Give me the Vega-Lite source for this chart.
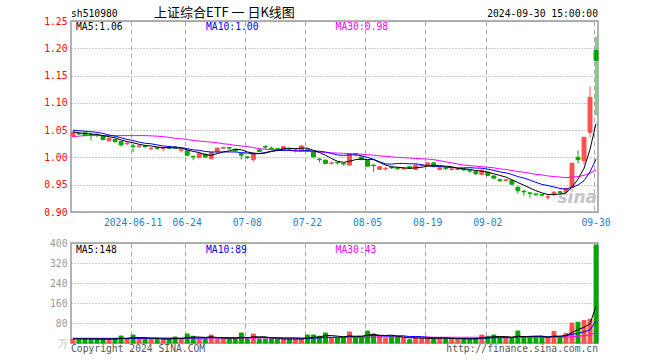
{
  "$schema": "https://vega.github.io/schema/vega-lite/v6.json",
  "background": "white",
  "padding": {"left": 42, "top": 6, "right": 0, "bottom": 0},
  "config": {
    "font": "DejaVu Sans Mono",
    "view": {"stroke": "#999999", "strokeWidth": 1.5},
    "axis": {"labelFont": "DejaVu Sans Mono", "labelFontSize": 9.7},
    "text": {"font": "DejaVu Sans Mono", "fontSize": 9.7}
  },
  "data": {"values": [
    {"d":"2024-05-27","o":1.039,"h":1.048,"l":1.036,"c":1.046,"v":16,"m5":1.047,"m10":1.050,"m30":1.038,"vm5":17,"vm10":17,"vm30":19},
    {"d":"2024-05-28","o":1.044,"h":1.046,"l":1.041,"c":1.043,"v":16,"m5":1.045,"m10":1.049,"m30":1.039,"vm5":17,"vm10":17,"vm30":19},
    {"d":"2024-05-29","o":1.045,"h":1.046,"l":1.039,"c":1.040,"v":16,"m5":1.044,"m10":1.048,"m30":1.040,"vm5":17,"vm10":17,"vm30":19},
    {"d":"2024-05-30","o":1.042,"h":1.045,"l":1.031,"c":1.041,"v":16,"m5":1.043,"m10":1.047,"m30":1.040,"vm5":17,"vm10":17,"vm30":19},
    {"d":"2024-05-31","o":1.042,"h":1.044,"l":1.037,"c":1.041,"v":16,"m5":1.042,"m10":1.046,"m30":1.040,"vm5":16,"vm10":17,"vm30":19},
    {"d":"2024-06-03","o":1.039,"h":1.040,"l":1.031,"c":1.033,"v":16,"m5":1.040,"m10":1.044,"m30":1.040,"vm5":16,"vm10":16.5,"vm30":19},
    {"d":"2024-06-04","o":1.031,"h":1.036,"l":1.028,"c":1.035,"v":16,"m5":1.038,"m10":1.041,"m30":1.040,"vm5":16,"vm10":16.5,"vm30":19},
    {"d":"2024-06-05","o":1.033,"h":1.034,"l":1.027,"c":1.029,"v":16,"m5":1.036,"m10":1.039,"m30":1.040,"vm5":16,"vm10":16.5,"vm30":19},
    {"d":"2024-06-06","o":1.029,"h":1.030,"l":1.020,"c":1.023,"v":28,"m5":1.032,"m10":1.036,"m30":1.040,"vm5":18.4,"vm10":17.7,"vm30":19},
    {"d":"2024-06-07","o":1.025,"h":1.028,"l":1.022,"c":1.026,"v":16,"m5":1.029,"m10":1.033,"m30":1.040,"vm5":18.4,"vm10":17.2,"vm30":19},
    {"d":"2024-06-11","o":1.021,"h":1.025,"l":1.010,"c":1.020,"v":32,"m5":1.027,"m10":1.031,"m30":1.040,"vm5":21.6,"vm10":18.8,"vm30":19.5},
    {"d":"2024-06-12","o":1.020,"h":1.023,"l":1.017,"c":1.021,"v":16,"m5":1.024,"m10":1.028,"m30":1.040,"vm5":21.6,"vm10":18.8,"vm30":19.5},
    {"d":"2024-06-13","o":1.021,"h":1.022,"l":1.017,"c":1.020,"v":16,"m5":1.022,"m10":1.026,"m30":1.040,"vm5":21.6,"vm10":18.8,"vm30":19.5},
    {"d":"2024-06-14","o":1.016,"h":1.019,"l":1.013,"c":1.017,"v":16,"m5":1.021,"m10":1.025,"m30":1.0395,"vm5":19.2,"vm10":18.8,"vm30":19.5},
    {"d":"2024-06-17","o":1.018,"h":1.019,"l":1.014,"c":1.017,"v":16,"m5":1.019,"m10":1.023,"m30":1.039,"vm5":19.2,"vm10":18.8,"vm30":19.5},
    {"d":"2024-06-18","o":1.016,"h":1.019,"l":1.011,"c":1.017,"v":16,"m5":1.018,"m10":1.021,"m30":1.038,"vm5":16,"vm10":18.8,"vm30":19.5},
    {"d":"2024-06-19","o":1.018,"h":1.020,"l":1.015,"c":1.017,"v":16,"m5":1.018,"m10":1.020,"m30":1.037,"vm5":16,"vm10":18.8,"vm30":19.5},
    {"d":"2024-06-20","o":1.019,"h":1.021,"l":1.016,"c":1.018,"v":24,"m5":1.017,"m10":1.019,"m30":1.035,"vm5":17.6,"vm10":19.6,"vm30":19.5},
    {"d":"2024-06-21","o":1.013,"h":1.016,"l":1.009,"c":1.014,"v":16,"m5":1.017,"m10":1.018,"m30":1.034,"vm5":17.6,"vm10":18.4,"vm30":19.5},
    {"d":"2024-06-24","o":1.012,"h":1.013,"l":1.003,"c":1.004,"v":36,"m5":1.014,"m10":1.016,"m30":1.033,"vm5":21.6,"vm10":20.4,"vm30":19.5},
    {"d":"2024-06-25","o":1.002,"h":1.003,"l":0.995,"c":1.001,"v":27,"m5":1.011,"m10":1.014,"m30":1.031,"vm5":23.8,"vm10":19.9,"vm30":20},
    {"d":"2024-06-26","o":1.000,"h":1.008,"l":0.998,"c":1.007,"v":16,"m5":1.009,"m10":1.013,"m30":1.030,"vm5":23.8,"vm10":19.9,"vm30":20},
    {"d":"2024-06-27","o":1.006,"h":1.007,"l":0.999,"c":1.001,"v":16,"m5":1.005,"m10":1.011,"m30":1.029,"vm5":22.2,"vm10":19.9,"vm30":20},
    {"d":"2024-06-28","o":0.998,"h":1.010,"l":0.996,"c":1.009,"v":32,"m5":1.004,"m10":1.010,"m30":1.028,"vm5":25.4,"vm10":21.5,"vm30":20},
    {"d":"2024-07-01","o":1.010,"h":1.018,"l":1.009,"c":1.017,"v":16,"m5":1.007,"m10":1.010,"m30":1.027,"vm5":21.4,"vm10":21.5,"vm30":20},
    {"d":"2024-07-02","o":1.017,"h":1.020,"l":1.015,"c":1.018,"v":16,"m5":1.010,"m10":1.010,"m30":1.025,"vm5":19.2,"vm10":21.5,"vm30":20},
    {"d":"2024-07-03","o":1.018,"h":1.019,"l":1.014,"c":1.017,"v":16,"m5":1.012,"m10":1.010,"m30":1.024,"vm5":19.2,"vm10":21.5,"vm30":20},
    {"d":"2024-07-04","o":1.015,"h":1.016,"l":1.011,"c":1.012,"v":16,"m5":1.015,"m10":1.010,"m30":1.022,"vm5":19.2,"vm10":20.7,"vm30":20},
    {"d":"2024-07-05","o":1.007,"h":1.008,"l":0.996,"c":1.004,"v":40,"m5":1.014,"m10":1.009,"m30":1.021,"vm5":20.8,"vm10":23.1,"vm30":20},
    {"d":"2024-07-08","o":1.001,"h":1.002,"l":0.997,"c":1.000,"v":16,"m5":1.010,"m10":1.008,"m30":1.020,"vm5":20.8,"vm10":21.1,"vm30":20},
    {"d":"2024-07-09","o":0.996,"h":1.008,"l":0.992,"c":1.007,"v":36,"m5":1.008,"m10":1.0065,"m30":1.018,"vm5":24.8,"vm10":22,"vm30":20.5},
    {"d":"2024-07-10","o":1.014,"h":1.016,"l":1.009,"c":1.011,"v":16,"m5":1.007,"m10":1.007,"m30":1.016,"vm5":24.8,"vm10":22,"vm30":20.5},
    {"d":"2024-07-11","o":1.020,"h":1.022,"l":1.015,"c":1.019,"v":16,"m5":1.008,"m10":1.009,"m30":1.015,"vm5":24.8,"vm10":22,"vm30":20.5},
    {"d":"2024-07-12","o":1.017,"h":1.020,"l":1.014,"c":1.016,"v":16,"m5":1.011,"m10":1.0115,"m30":1.0145,"vm5":20,"vm10":20.4,"vm30":20.5},
    {"d":"2024-07-15","o":1.016,"h":1.017,"l":1.012,"c":1.014,"v":16,"m5":1.013,"m10":1.0125,"m30":1.014,"vm5":20,"vm10":20.4,"vm30":20.5},
    {"d":"2024-07-16","o":1.013,"h":1.021,"l":1.012,"c":1.020,"v":16,"m5":1.016,"m10":1.013,"m30":1.0135,"vm5":16,"vm10":20.4,"vm30":20.5},
    {"d":"2024-07-17","o":1.016,"h":1.017,"l":1.013,"c":1.015,"v":16,"m5":1.017,"m10":1.013,"m30":1.013,"vm5":16,"vm10":20.4,"vm30":20.5},
    {"d":"2024-07-18","o":1.013,"h":1.017,"l":1.009,"c":1.014,"v":16,"m5":1.016,"m10":1.012,"m30":1.012,"vm5":16,"vm10":20.4,"vm30":20.5},
    {"d":"2024-07-19","o":1.012,"h":1.022,"l":1.011,"c":1.021,"v":16,"m5":1.017,"m10":1.012,"m30":1.0115,"vm5":16,"vm10":18,"vm30":20.5},
    {"d":"2024-07-22","o":1.014,"h":1.016,"l":1.010,"c":1.013,"v":32,"m5":1.017,"m10":1.0125,"m30":1.011,"vm5":19.2,"vm10":19.6,"vm30":20.5},
    {"d":"2024-07-23","o":1.010,"h":1.011,"l":1.000,"c":1.001,"v":32,"m5":1.013,"m10":1.0117,"m30":1.0105,"vm5":22.4,"vm10":19.2,"vm30":22},
    {"d":"2024-07-24","o":0.997,"h":0.999,"l":0.991,"c":0.996,"v":27,"m5":1.009,"m10":1.0112,"m30":1.010,"vm5":24.6,"vm10":20.3,"vm30":22},
    {"d":"2024-07-25","o":0.995,"h":0.996,"l":0.988,"c":0.989,"v":40,"m5":1.004,"m10":1.010,"m30":1.009,"vm5":29.4,"vm10":22.7,"vm30":22},
    {"d":"2024-07-26","o":0.989,"h":0.992,"l":0.987,"c":0.990,"v":18,"m5":0.998,"m10":1.0073,"m30":1.0085,"vm5":29.8,"vm10":22.9,"vm30":22},
    {"d":"2024-07-29","o":0.991,"h":0.992,"l":0.987,"c":0.990,"v":20,"m5":0.993,"m10":1.0045,"m30":1.008,"vm5":27.4,"vm10":23.3,"vm30":22},
    {"d":"2024-07-30","o":0.989,"h":0.990,"l":0.985,"c":0.988,"v":20,"m5":0.991,"m10":1.0037,"m30":1.0075,"vm5":25,"vm10":23.7,"vm30":22},
    {"d":"2024-07-31","o":0.986,"h":1.008,"l":0.985,"c":1.007,"v":44,"m5":0.993,"m10":1.0047,"m30":1.007,"vm5":28.4,"vm10":26.5,"vm30":22},
    {"d":"2024-08-01","o":1.007,"h":1.008,"l":1.003,"c":1.006,"v":24,"m5":0.996,"m10":1.0045,"m30":1.0065,"vm5":25.2,"vm10":27.3,"vm30":22},
    {"d":"2024-08-02","o":1.001,"h":1.002,"l":0.995,"c":0.996,"v":20,"m5":0.997,"m10":1.0032,"m30":1.006,"vm5":25.6,"vm10":27.7,"vm30":22},
    {"d":"2024-08-05","o":0.994,"h":0.995,"l":0.983,"c":0.984,"v":48,"m5":0.996,"m10":1.000,"m30":1.005,"vm5":31.2,"vm10":29.3,"vm30":22},
    {"d":"2024-08-06","o":0.986,"h":0.987,"l":0.974,"c":0.985,"v":36,"m5":0.996,"m10":0.9967,"m30":1.004,"vm5":34.4,"vm10":29.7,"vm30":24},
    {"d":"2024-08-07","o":0.978,"h":0.984,"l":0.977,"c":0.983,"v":27,"m5":0.991,"m10":0.992,"m30":1.003,"vm5":31,"vm10":29.7,"vm30":24},
    {"d":"2024-08-08","o":0.979,"h":0.983,"l":0.976,"c":0.980,"v":19,"m5":0.986,"m10":0.9881,"m30":1.002,"vm5":30,"vm10":27.6,"vm30":24},
    {"d":"2024-08-09","o":0.982,"h":0.983,"l":0.979,"c":0.981,"v":27,"m5":0.983,"m10":0.9877,"m30":1.001,"vm5":31.4,"vm10":28.5,"vm30":24},
    {"d":"2024-08-12","o":0.981,"h":0.982,"l":0.977,"c":0.980,"v":24,"m5":0.982,"m10":0.989,"m30":1.000,"vm5":26.6,"vm10":28.9,"vm30":24},
    {"d":"2024-08-13","o":0.979,"h":0.982,"l":0.977,"c":0.980,"v":19,"m5":0.981,"m10":0.9891,"m30":0.9995,"vm5":23.2,"vm10":28.8,"vm30":24},
    {"d":"2024-08-14","o":0.983,"h":0.984,"l":0.979,"c":0.980,"v":13,"m5":0.980,"m10":0.9882,"m30":0.999,"vm5":20.4,"vm10":25.7,"vm30":24},
    {"d":"2024-08-15","o":0.978,"h":0.987,"l":0.977,"c":0.986,"v":23,"m5":0.981,"m10":0.9885,"m30":0.998,"vm5":21.2,"vm10":25.6,"vm30":24},
    {"d":"2024-08-16","o":0.985,"h":0.988,"l":0.983,"c":0.986,"v":19,"m5":0.982,"m10":0.9866,"m30":0.9975,"vm5":19.6,"vm10":25.5,"vm30":24},
    {"d":"2024-08-19","o":0.986,"h":0.991,"l":0.985,"c":0.990,"v":19,"m5":0.984,"m10":0.985,"m30":0.997,"vm5":18.6,"vm10":22.6,"vm30":24},
    {"d":"2024-08-20","o":0.990,"h":0.991,"l":0.982,"c":0.983,"v":19,"m5":0.985,"m10":0.9838,"m30":0.996,"vm5":18.6,"vm10":20.9,"vm30":23},
    {"d":"2024-08-21","o":0.978,"h":0.983,"l":0.976,"c":0.981,"v":19,"m5":0.985,"m10":0.9835,"m30":0.994,"vm5":19.8,"vm10":20.1,"vm30":23},
    {"d":"2024-08-22","o":0.981,"h":0.982,"l":0.977,"c":0.980,"v":19,"m5":0.984,"m10":0.9824,"m30":0.992,"vm5":19,"vm10":20.1,"vm30":23},
    {"d":"2024-08-23","o":0.978,"h":0.981,"l":0.976,"c":0.979,"v":16,"m5":0.983,"m10":0.9814,"m30":0.990,"vm5":18.4,"vm10":19,"vm30":23},
    {"d":"2024-08-26","o":0.978,"h":0.980,"l":0.976,"c":0.979,"v":16,"m5":0.980,"m10":0.9809,"m30":0.988,"vm5":17.8,"vm10":18.2,"vm30":23},
    {"d":"2024-08-27","o":0.979,"h":0.980,"l":0.976,"c":0.977,"v":16,"m5":0.979,"m10":0.9808,"m30":0.986,"vm5":17.2,"vm10":17.9,"vm30":23},
    {"d":"2024-08-28","o":0.976,"h":0.977,"l":0.972,"c":0.975,"v":16,"m5":0.978,"m10":0.9812,"m30":0.985,"vm5":16.6,"vm10":18.2,"vm30":23},
    {"d":"2024-08-29","o":0.974,"h":0.975,"l":0.968,"c":0.970,"v":19,"m5":0.976,"m10":0.9805,"m30":0.984,"vm5":16.6,"vm10":17.8,"vm30":23},
    {"d":"2024-08-30","o":0.969,"h":0.980,"l":0.968,"c":0.976,"v":32,"m5":0.975,"m10":0.9803,"m30":0.983,"vm5":19.8,"vm10":19.1,"vm30":23},
    {"d":"2024-09-02","o":0.973,"h":0.974,"l":0.966,"c":0.967,"v":27,"m5":0.973,"m10":0.9785,"m30":0.982,"vm5":22,"vm10":19.9,"vm30":23},
    {"d":"2024-09-03","o":0.966,"h":0.967,"l":0.961,"c":0.962,"v":32,"m5":0.970,"m10":0.9763,"m30":0.981,"vm5":25.2,"vm10":21.2,"vm30":22.5},
    {"d":"2024-09-04","o":0.959,"h":0.961,"l":0.955,"c":0.958,"v":19,"m5":0.967,"m10":0.9735,"m30":0.979,"vm5":25.8,"vm10":21.2,"vm30":22.5},
    {"d":"2024-09-05","o":0.958,"h":0.960,"l":0.956,"c":0.959,"v":19,"m5":0.964,"m10":0.9718,"m30":0.978,"vm5":25.8,"vm10":21.2,"vm30":22.5},
    {"d":"2024-09-06","o":0.958,"h":0.959,"l":0.949,"c":0.951,"v":19,"m5":0.959,"m10":0.9687,"m30":0.976,"vm5":23.2,"vm10":21.5,"vm30":22.5},
    {"d":"2024-09-09","o":0.945,"h":0.948,"l":0.934,"c":0.939,"v":48,"m5":0.954,"m10":0.9649,"m30":0.974,"vm5":27.4,"vm10":24.7,"vm30":22.5},
    {"d":"2024-09-10","o":0.938,"h":0.941,"l":0.930,"c":0.937,"v":23,"m5":0.949,"m10":0.9621,"m30":0.973,"vm5":25.6,"vm10":25.4,"vm30":22.5},
    {"d":"2024-09-11","o":0.935,"h":0.937,"l":0.926,"c":0.934,"v":23,"m5":0.944,"m10":0.9585,"m30":0.971,"vm5":26.4,"vm10":26.1,"vm30":22.5},
    {"d":"2024-09-12","o":0.933,"h":0.934,"l":0.929,"c":0.932,"v":23,"m5":0.939,"m10":0.9543,"m30":0.969,"vm5":27.2,"vm10":26.5,"vm30":22.5},
    {"d":"2024-09-13","o":0.932,"h":0.933,"l":0.928,"c":0.931,"v":22,"m5":0.935,"m10":0.9506,"m30":0.968,"vm5":27.8,"vm10":25.5,"vm30":22.5},
    {"d":"2024-09-18","o":0.927,"h":0.931,"l":0.922,"c":0.928,"v":22,"m5":0.932,"m10":0.9484,"m30":0.966,"vm5":22.6,"vm10":25,"vm30":22.5},
    {"d":"2024-09-19","o":0.934,"h":0.939,"l":0.928,"c":0.936,"v":46,"m5":0.932,"m10":0.9458,"m30":0.965,"vm5":27.2,"vm10":26.4,"vm30":22.8},
    {"d":"2024-09-20","o":0.937,"h":0.938,"l":0.933,"c":0.936,"v":22,"m5":0.933,"m10":0.9432,"m30":0.964,"vm5":27,"vm10":26.7,"vm30":22.7},
    {"d":"2024-09-23","o":0.937,"h":0.945,"l":0.933,"c":0.943,"v":38,"m5":0.935,"m10":0.9418,"m30":0.963,"vm5":30,"vm10":28.6,"vm30":23.3},
    {"d":"2024-09-24","o":0.945,"h":0.991,"l":0.943,"c":0.989,"v":80,"m5":0.946,"m10":0.9452,"m30":0.964,"vm5":41.6,"vm10":34.7,"vm30":25},
    {"d":"2024-09-25","o":1.000,"h":1.013,"l":0.989,"c":0.996,"v":83,"m5":0.960,"m10":0.9493,"m30":0.965,"vm5":53.8,"vm10":38.2,"vm30":27},
    {"d":"2024-09-26","o":0.994,"h":1.037,"l":0.987,"c":1.037,"v":90,"m5":0.980,"m10":0.9574,"m30":0.967,"vm5":62.6,"vm10":44.9,"vm30":29.4},
    {"d":"2024-09-27","o":1.046,"h":1.130,"l":1.037,"c":1.110,"v":95,"m5":1.015,"m10":0.9737,"m30":0.971,"vm5":77.2,"vm10":52.1,"vm30":32.1},
    {"d":"2024-09-30","o":1.196,"h":1.221,"l":1.077,"c":1.178,"v":392,"m5":1.062,"m10":0.997,"m30":0.977,"vm5":148,"vm10":89,"vm30":43}
  ]},
  "spacing": 9,
  "resolve": {"scale": {"x": "independent", "y": "independent"}},
  "vconcat": [
    {
      "width": 527,
      "height": 191,
      "layer": [
        {
          "mark": {"type": "rule", "strokeWidth": 1},
          "encoding": {
            "x": {"field": "d", "type": "ordinal", "title": null,
              "scale": {"paddingInner": 0.35, "paddingOuter": 0},
              "axis": {"values": ["2024-06-11","2024-06-24","2024-07-08","2024-07-22","2024-08-05","2024-08-19","2024-09-02","2024-09-30"],
                "labelExpr": "datum.value == '2024-06-11' ? datum.value : substring(datum.value, 5)",
                "labelColor": "#1a7fcf", "labelAngle": 0, "labelPadding": 5.5, "labelOverlap": false,
                "ticks": false, "domain": false, "grid": true, "gridColor": "#aaaaaa", "gridDash": [5, 3], "gridWidth": 1, "bandPosition": 0.05}},
            "y": {"field": "l", "type": "quantitative", "title": null,
              "scale": {"domain": [0.9, 1.25], "nice": false, "zero": false},
              "axis": {"values": [0.9, 0.95, 1.0, 1.05, 1.1, 1.15, 1.2, 1.25], "tickCount": 20, "format": ".2f", "labelColor": "#ff0000",
                "labelPadding": 4, "labelFlush": false, "labelOverlap": false, "ticks": false, "domain": false, "grid": true,
                "gridColor": "#999999", "gridDash": [1, 2], "gridWidth": 1, "minExtent": 28, "maxExtent": 28}},
            "y2": {"field": "h"},
            "color": {"condition": {"test": "datum.c >= datum.o", "value": "#ff5050"}, "value": "#00a800"}
          }
        },
        {
          "data": {"values": [{}]},
          "mark": {"type": "text", "align": "right", "baseline": "alphabetic", "color": "#c4c4c4", "font": "DejaVu Sans", "fontSize": 17, "fontWeight": "bold", "fontStyle": "italic", "dx": -1},
          "encoding": {"x": {"datum": "2024-09-30", "type": "ordinal", "bandPosition": 1}, "y": {"datum": 0.9165, "type": "quantitative"}, "text": {"value": "sina"}}
        },
        {
          "mark": {"type": "bar", "strokeWidth": 1},
          "encoding": {
            "x": {"field": "d", "type": "ordinal"},
            "y": {"field": "o", "type": "quantitative", "scale": {"domain": [0.9, 1.25], "nice": false, "zero": false}},
            "y2": {"field": "c"},
            "fill": {"condition": {"test": "datum.c >= datum.o", "value": "#ff5050"}, "value": "#00a800"},
            "stroke": {"condition": {"test": "datum.c >= datum.o", "value": "#ff5050"}, "value": "#00a800"}
          }
        },
        {
          "mark": {"type": "line", "color": "#ff00ff", "strokeWidth": 1},
          "encoding": {"x": {"field": "d", "type": "ordinal"}, "y": {"field": "m30", "type": "quantitative"}}
        },
        {
          "mark": {"type": "line", "color": "#0000ff", "strokeWidth": 1},
          "encoding": {"x": {"field": "d", "type": "ordinal"}, "y": {"field": "m10", "type": "quantitative"}}
        },
        {
          "mark": {"type": "line", "color": "#000000", "strokeWidth": 1},
          "encoding": {"x": {"field": "d", "type": "ordinal"}, "y": {"field": "m5", "type": "quantitative"}}
        },
        {
          "data": {"values": [{}]},
          "mark": {"type": "text", "align": "left", "baseline": "alphabetic", "color": "#000000"},
          "encoding": {"x": {"datum": "2024-05-27", "type": "ordinal", "bandPosition": 0}, "y": {"datum": 1.2565, "type": "quantitative"}, "text": {"value": "sh510980"}}
        },
        {
          "data": {"values": [{}]},
          "mark": {"type": "text", "align": "center", "baseline": "alphabetic", "color": "#000000", "font": "Noto Sans CJK SC", "fontSize": 13},
          "encoding": {"x": {"datum": "2024-07-02", "type": "ordinal", "bandPosition": 0.8}, "y": {"datum": 1.2565, "type": "quantitative"}, "text": {"value": "上证综合ETF 一  日K线图"}}
        },
        {
          "data": {"values": [{}]},
          "mark": {"type": "text", "align": "right", "baseline": "alphabetic", "color": "#000000"},
          "encoding": {"x": {"datum": "2024-09-30", "type": "ordinal", "bandPosition": 1}, "y": {"datum": 1.2565, "type": "quantitative"}, "text": {"value": "2024-09-30 15:00:00"}}
        },
        {
          "data": {"values": [{}]},
          "mark": {"type": "text", "align": "left", "baseline": "alphabetic", "color": "#000000", "dx": 5},
          "encoding": {"x": {"datum": "2024-05-27", "type": "ordinal", "bandPosition": 0}, "y": {"datum": 1.2328, "type": "quantitative"}, "text": {"value": "MA5:1.06"}}
        },
        {
          "data": {"values": [{}]},
          "mark": {"type": "text", "align": "left", "baseline": "alphabetic", "color": "#0000ee"},
          "encoding": {"x": {"datum": "2024-06-27", "type": "ordinal", "bandPosition": 0.7}, "y": {"datum": 1.2328, "type": "quantitative"}, "text": {"value": "MA10:1.00"}}
        },
        {
          "data": {"values": [{}]},
          "mark": {"type": "text", "align": "left", "baseline": "alphabetic", "color": "#ff00ff"},
          "encoding": {"x": {"datum": "2024-07-29", "type": "ordinal", "bandPosition": 0}, "y": {"datum": 1.2328, "type": "quantitative"}, "text": {"value": "MA30:0.98"}}
        }
      ]
    },
    {
      "width": 527,
      "height": 100,
      "layer": [
        {
          "mark": {"type": "bar", "strokeWidth": 1},
          "encoding": {
            "x": {"field": "d", "type": "ordinal", "title": null,
              "scale": {"paddingInner": 0.35, "paddingOuter": 0},
              "axis": {"values": ["2024-06-11","2024-06-24","2024-07-08","2024-07-22","2024-08-05","2024-08-19","2024-09-02","2024-09-30"],
                "labels": false, "ticks": false, "domain": false, "grid": true, "gridColor": "#aaaaaa", "gridDash": [5, 3], "gridWidth": 1, "bandPosition": 0.05}},
            "y": {"field": "v", "type": "quantitative", "title": null,
              "scale": {"domain": [0, 400], "nice": false},
              "axis": {"values": [0, 80, 160, 240, 320, 400], "tickCount": 20, "labelExpr": "datum.value == 0 ? '万' : datum.label",
                "labelColor": {"condition": {"test": "datum.value == 0", "value": "#bbbbbb"}, "value": "#999999"},
                "labelPadding": 4, "labelFlush": false, "labelOverlap": false, "ticks": false, "domain": false, "grid": true,
                "gridColor": "#999999", "gridDash": [1, 2], "gridWidth": 1, "minExtent": 28, "maxExtent": 28}},
            "fill": {"condition": {"test": "datum.c >= datum.o", "value": "#ff5050"}, "value": "#00a800"},
            "stroke": {"condition": {"test": "datum.c >= datum.o", "value": "#ff5050"}, "value": "#00a800"}
          }
        },
        {
          "mark": {"type": "line", "color": "#ff00ff", "strokeWidth": 1},
          "encoding": {"x": {"field": "d", "type": "ordinal"}, "y": {"field": "vm30", "type": "quantitative"}}
        },
        {
          "mark": {"type": "line", "color": "#0000ff", "strokeWidth": 1},
          "encoding": {"x": {"field": "d", "type": "ordinal"}, "y": {"field": "vm10", "type": "quantitative"}}
        },
        {
          "mark": {"type": "line", "color": "#000000", "strokeWidth": 1},
          "encoding": {"x": {"field": "d", "type": "ordinal"}, "y": {"field": "vm5", "type": "quantitative"}}
        },
        {
          "data": {"values": [{}]},
          "mark": {"type": "text", "align": "left", "baseline": "alphabetic", "color": "#000000", "dx": 5},
          "encoding": {"x": {"datum": "2024-05-27", "type": "ordinal", "bandPosition": 0}, "y": {"datum": 360, "type": "quantitative"}, "text": {"value": "MA5:148"}}
        },
        {
          "data": {"values": [{}]},
          "mark": {"type": "text", "align": "left", "baseline": "alphabetic", "color": "#0000ee"},
          "encoding": {"x": {"datum": "2024-06-27", "type": "ordinal", "bandPosition": 0.7}, "y": {"datum": 360, "type": "quantitative"}, "text": {"value": "MA10:89"}}
        },
        {
          "data": {"values": [{}]},
          "mark": {"type": "text", "align": "left", "baseline": "alphabetic", "color": "#ff00ff"},
          "encoding": {"x": {"datum": "2024-07-29", "type": "ordinal", "bandPosition": 0}, "y": {"datum": 360, "type": "quantitative"}, "text": {"value": "MA30:43"}}
        },
        {
          "data": {"values": [{}]},
          "mark": {"type": "text", "align": "left", "baseline": "alphabetic", "color": "#555555"},
          "encoding": {"x": {"datum": "2024-05-27", "type": "ordinal", "bandPosition": 0}, "y": {"datum": -37, "type": "quantitative"}, "text": {"value": "Copyright 2024 SINA.COM"}}
        },
        {
          "data": {"values": [{}]},
          "mark": {"type": "text", "align": "right", "baseline": "alphabetic", "color": "#555555"},
          "encoding": {"x": {"datum": "2024-09-30", "type": "ordinal", "bandPosition": 1}, "y": {"datum": -37, "type": "quantitative"}, "text": {"value": "http://finance.sina.com.cn"}}
        }
      ]
    }
  ]
}
